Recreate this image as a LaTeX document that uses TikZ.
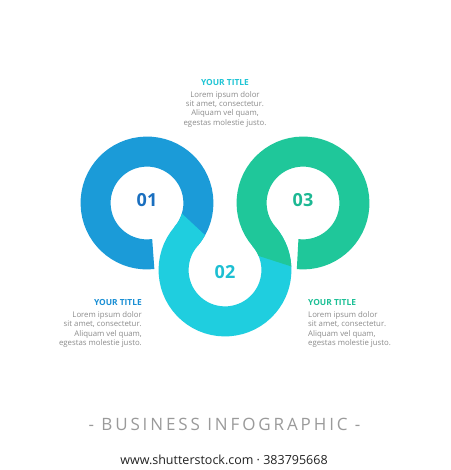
\documentclass[tikz,border=0pt]{standalone}
\usepackage{fontspec}
\setmainfont{Open Sans}
\usetikzlibrary{calc}
\definecolor{ringblue}{HTML}{1B9BD8}
\definecolor{ringcyan}{HTML}{1FCEDF}
\definecolor{ringgreen}{HTML}{1FC79A}
\definecolor{numblue}{HTML}{1A6FBF}
\definecolor{numcyan}{HTML}{1DBFD2}
\definecolor{numgreen}{HTML}{1CB893}
\definecolor{titlecyan}{HTML}{20C5D5}
\definecolor{titleblue}{HTML}{1A8FD4}
\definecolor{titlegreen}{HTML}{1DC096}
\definecolor{bodygray}{HTML}{8C8C8C}
\definecolor{headgray}{HTML}{9A9A9A}
\definecolor{footblack}{HTML}{222222}
\newcommand{\ttl}[2]{{\fontsize{8.4}{9.4}\selectfont\bfseries\color{#1}#2}}
\begin{document}
\begin{tikzpicture}[x=1pt,y=1pt,
  band/.style={line width=30pt},
  num/.style={font=\fontsize{18}{20}\selectfont\bfseries, inner sep=0pt},
  block/.style={font=\fontsize{7.8}{9.4}\selectfont, text=bodygray, inner sep=0pt}]
\useasboundingbox (0,0) rectangle (450,470);
\fill[white] (0,0) rectangle (450,470);
\def\R{51.414}
\coordinate (c1) at (147,267);
\coordinate (c2) at (225,200);
\coordinate (c3) at (303,267);
% blue ring
\draw[band, ringblue] ($(c1)+(277:\R)$) coordinate (b0)
  arc[start angle=277, end angle=-40.66, radius=\R] coordinate (t12);
% cyan ring
\begin{scope}
\clip (0,0) -- (450,0) -- (450,470) -- (221.5,470) -- (221.5,219.5) -- (120,314) -- (0,314) -- cycle;
\draw[band, ringcyan] ($(c1)+(-5:\R)$) coordinate (k0)
  arc[start angle=-5, end angle=-40.66, radius=\R]
  arc[start angle=139.34, end angle=400.66, radius=\R] coordinate (t23);
\end{scope}
% green ring
\begin{scope}
\clip (0,0) -- (231,0) -- (231,223) -- (293.5,202.84) -- (293.5,0) -- (450,0) -- (450,470) -- (0,470) -- cycle;
\draw[band, ringgreen] ($(c2)+(-3:\R)$) coordinate (g0)
  arc[start angle=-3, end angle=40.66, radius=\R]
  arc[start angle=220.66, end angle=-96, radius=\R] coordinate (g1);
\end{scope}
% numbers
\node[num, text=numblue] (n1) at (147,269.5) {01};
\node[num, text=numcyan] (n2) at (225,198) {02};
\node[num, text=numgreen] (n3) at (303,269.5) {03};
% text blocks
\node[block, anchor=north, align=center] (tb) at (225,391)
  {\ttl{titlecyan}{YOUR TITLE}\\[2.4pt]
   Lorem ipsum dolor\\ sit amet, consectetur.\\ Aliquam vel quam,\\ egestas molestie justo.};
\node[block, anchor=north east, align=right] (lb) at (142,170.5)
  {\ttl{titleblue}{YOUR TITLE}\\[2.4pt]
   Lorem ipsum dolor\\ sit amet, consectetur.\\ Aliquam vel quam,\\ egestas molestie justo.};
\node[block, anchor=north west, align=left] (rb) at (308,170.5)
  {\ttl{titlegreen}{YOUR TITLE}\\[2.4pt]
   Lorem ipsum dolor\\ sit amet, consectetur.\\ Aliquam vel quam,\\ egestas molestie justo.};
% heading
\node[inner sep=0pt, text=headgray, font=\fontsize{17}{20}\selectfont\addfontfeature{LetterSpace=17}] (head) at (224.5,46) {- BUSINESS INFOGRAPHIC -};
\node[inner sep=0pt, text=footblack, font=\fontsize{12.5}{14}\selectfont] (foot) at (224,10) {www.shutterstock.com · 383795668};
\end{tikzpicture}
\end{document}
